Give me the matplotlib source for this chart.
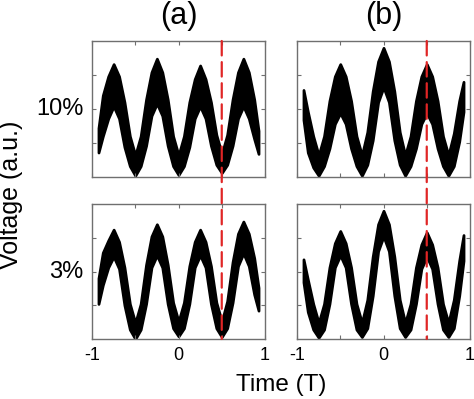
import matplotlib
matplotlib.use("Agg")
import matplotlib.pyplot as plt
from matplotlib.patches import ConnectionPatch

plt.rcParams['font.family'] = ['Liberation Sans', 'DejaVu Sans']

# sample times (T) along the traces
time = [-0.925, -0.875, -0.8125, -0.75, -0.6875, -0.625, -0.5625, -0.5,
        -0.4375, -0.375, -0.3125, -0.25, -0.1875, -0.125, -0.0625, 0.0,
        0.0625, 0.125, 0.1875, 0.25, 0.3125, 0.375, 0.4375, 0.5,
        0.5625, 0.625, 0.6875, 0.75, 0.8125, 0.875, 0.925]

# upper / lower edge of the noisy voltage band (a.u.)
a10_upper = [0.36, 0.60, 0.74, 0.83, 0.74, 0.55, 0.30, 0.16,
             0.30, 0.57, 0.77, 0.87, 0.77, 0.57, 0.30, 0.16,
             0.30, 0.55, 0.72, 0.82, 0.72, 0.55, 0.31, 0.17,
             0.31, 0.57, 0.77, 0.87, 0.77, 0.57, 0.34]
a10_lower = [0.18, 0.30, 0.43, 0.52, 0.43, 0.22, 0.08, 0.01,
             0.08, 0.23, 0.45, 0.54, 0.45, 0.23, 0.08, 0.015,
             0.08, 0.22, 0.43, 0.52, 0.43, 0.23, 0.09, 0.03,
             0.09, 0.23, 0.43, 0.52, 0.43, 0.28, 0.17]

b10_upper = [0.64, 0.48, 0.30, 0.16, 0.30, 0.56, 0.74, 0.83,
             0.74, 0.56, 0.30, 0.16, 0.33, 0.63, 0.85, 0.95,
             0.85, 0.63, 0.33, 0.16, 0.30, 0.56, 0.74, 0.83,
             0.74, 0.56, 0.30, 0.16, 0.32, 0.56, 0.70]
b10_lower = [0.42, 0.18, 0.07, 0.01, 0.08, 0.21, 0.39, 0.47,
             0.39, 0.21, 0.08, 0.01, 0.09, 0.27, 0.55, 0.66,
             0.55, 0.27, 0.09, 0.01, 0.08, 0.21, 0.39, 0.47,
             0.39, 0.21, 0.08, 0.01, 0.08, 0.26, 0.48]

a3_upper = [0.45, 0.64, 0.73, 0.81, 0.72, 0.53, 0.26, 0.12,
            0.26, 0.55, 0.76, 0.85, 0.76, 0.55, 0.27, 0.13,
            0.27, 0.54, 0.72, 0.81, 0.72, 0.54, 0.27, 0.13,
            0.28, 0.57, 0.78, 0.87, 0.78, 0.60, 0.38]
a3_lower = [0.26, 0.40, 0.53, 0.61, 0.52, 0.25, 0.07, 0.0,
            0.07, 0.26, 0.53, 0.62, 0.53, 0.26, 0.08, 0.02,
            0.08, 0.26, 0.53, 0.62, 0.53, 0.26, 0.08, 0.015,
            0.08, 0.27, 0.54, 0.635, 0.54, 0.33, 0.21]

b3_upper = [0.59, 0.44, 0.26, 0.12, 0.26, 0.53, 0.71, 0.80,
            0.71, 0.53, 0.26, 0.12, 0.29, 0.61, 0.85, 0.95,
            0.85, 0.61, 0.29, 0.12, 0.26, 0.53, 0.70, 0.79,
            0.70, 0.53, 0.26, 0.12, 0.29, 0.58, 0.77]
b3_lower = [0.42, 0.20, 0.07, 0.01, 0.07, 0.26, 0.53, 0.62,
            0.53, 0.26, 0.07, 0.015, 0.08, 0.32, 0.65, 0.76,
            0.65, 0.32, 0.08, 0.015, 0.07, 0.26, 0.52, 0.61,
            0.52, 0.26, 0.07, 0.015, 0.08, 0.32, 0.58]

column_titles = ["(a)", "(b)"]
row_labels = ["10%", "3%"]
marker_time = 0.5
xtick_values = [-1, -0.5, 0, 0.5, 1]
xtick_labels = ["-1", "", "0", "", "1"]

fig = plt.figure(figsize=(4.74, 3.99), dpi=100)
W, H = 474, 399


def px_axes(left, top, right, bottom):
    return fig.add_axes([left / W, (H - bottom) / H, (right - left) / W, (bottom - top) / H])


axes = [[px_axes(92, 41, 265, 177), px_axes(297, 41, 470, 177)],
        [px_axes(92, 204, 265, 339), px_axes(297, 204, 470, 339)]]

bands = [[(a10_upper, a10_lower), (b10_upper, b10_lower)],
         [(a3_upper, a3_lower), (b3_upper, b3_lower)]]

spine_col = "#6f6f6f"
for r in range(2):
    for c in range(2):
        ax = axes[r][c]
        up, lo = bands[r][c]
        ax.fill_between(time, lo, up, facecolor="black", edgecolor="black", lw=2.0)
        ax.set_xlim(-1, 1)
        ax.set_ylim(0, 1)
        ax.set_xticks(xtick_values)
        ax.set_yticks([0.25, 0.5, 0.75])
        ax.set_yticklabels([])
        if r == 1:
            ax.set_xticklabels(xtick_labels)
        else:
            ax.set_xticklabels([])
        ax.tick_params(direction="in", top=True, right=True, length=3, width=0.8,
                       color=spine_col, labelsize=13, pad=6)
        for s in ax.spines.values():
            s.set_color(spine_col)
            s.set_linewidth(1.0)
        if r == 0:
            pos = ax.get_position()
            fig.text((pos.x0 + pos.x1) / 2, (H - 16) / H, column_titles[c],
                     ha="center", va="center", fontsize=22)
        if c == 0:
            ax.text(-0.05, 0.5, row_labels[r], transform=ax.transAxes,
                    ha="right", va="center", fontsize=17)

# red dashed marker running through both rows
for c in range(2):
    con = ConnectionPatch(xyA=(marker_time, 1), coordsA=axes[0][c].transData,
                          xyB=(marker_time, 0), coordsB=axes[1][c].transData,
                          color="#e02525", lw=1.6, linestyle=(0, (6.5, 3)), zorder=10)
    fig.add_artist(con)

fig.text(281 / W, (H - 391) / H, "Time (T)", ha="center", va="baseline", fontsize=17.5)
fig.text(11 / W, (H - 195) / H, "Voltage (a.u.)", ha="center", va="center",
         rotation=90, fontsize=18)

fig.savefig("out.png", dpi=100)
